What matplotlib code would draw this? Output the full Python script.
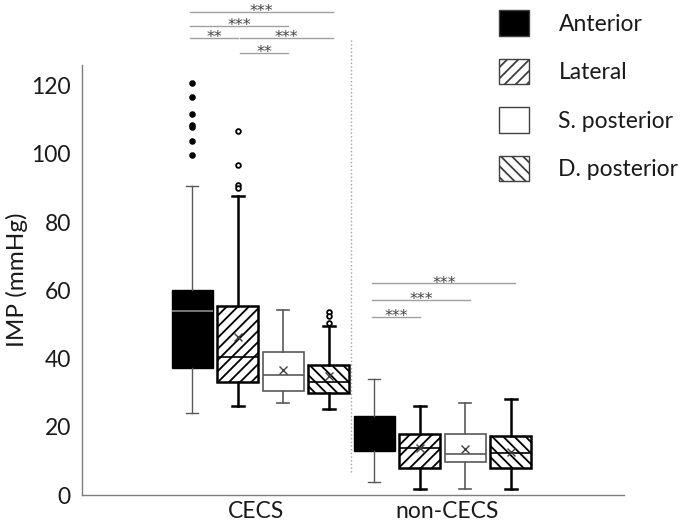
import numpy as np
import matplotlib.pyplot as plt
from matplotlib.patches import Patch

plt.rcParams['font.family'] = ['Lato', 'DejaVu Sans']
plt.rcParams['hatch.linewidth'] = 1.3

# data (mmHg)
groups = ['CECS', 'non-CECS']
sites = ['Anterior', 'Lateral', 'S. posterior', 'D. posterior']

# per box: q1, median, q3, whisker low, whisker high, mean
cecs_q1 = [37.1, 33.1, 30.4, 30.0]
cecs_med = [53.8, 40.3, 35.1, 33.1]
cecs_q3 = [60.2, 55.3, 41.9, 38.0]
cecs_lo = [24.0, 26.0, 27.0, 25.1]
cecs_hi = [90.6, 87.7, 54.3, 49.4]
cecs_mean = [50.0, 46.2, 36.6, 34.8]
cecs_out = [[120.8, 116.7, 111.6, 108.5, 107.9, 103.6, 99.6],
            [106.8, 96.6, 90.9, 90.0],
            [],
            [53.5, 52.5, 50.4]]

non_q1 = [12.9, 8.0, 9.7, 8.0]
non_med = [17.5, 13.9, 12.0, 12.2]
non_q3 = [23.1, 18.0, 17.9, 17.2]
non_lo = [3.9, 1.8, 1.8, 1.8]
non_hi = [34.1, 26.1, 27.0, 28.1]
non_mean = [18.0, 13.8, 13.4, 12.5]
non_out = [[], [], [], []]

# significance: (first box, second box, level, stars)
cecs_sig = [(0, 3, 141.6, '***'), (0, 2, 137.5, '***'), (0, 1, 134.0, '**'),
            (1, 3, 134.0, '***'), (1, 2, 129.6, '**')]
non_sig = [(0, 3, 62.0, '***'), (0, 2, 57.1, '***'), (0, 1, 52.1, '***')]

# styles per site
faces = ['black', 'white', 'white', 'white']
hatches = ['', '///', '', '\\\\\\']
edges = ['black', 'black', '#595959', 'black']
edge_w = [1.0, 1.8, 1.2, 1.8]
whisk_c = ['#595959', 'black', '#595959', 'black']
med_c = [['#8c8c8c', 'black', '#595959', 'black'],
         ['black', 'black', '#595959', 'black']]
mean_c = ['black', '#404040', '#404040', '#404040']

fig = plt.figure(figsize=(6.85, 5.24), dpi=100)
ax = fig.add_axes([0.1197, 0.0553, 0.7915, 0.8206])

all_stats = [(cecs_q1, cecs_med, cecs_q3, cecs_lo, cecs_hi, cecs_mean, cecs_out),
             (non_q1, non_med, non_q3, non_lo, non_hi, non_mean, non_out)]

for g, (q1s, meds, q3s, los, his, means, outs) in enumerate(all_stats):
    for i in range(4):
        pos = g * 4 + i
        st = dict(q1=q1s[i], med=meds[i], q3=q3s[i], whislo=los[i], whishi=his[i],
                  mean=means[i], fliers=outs[i])
        bp = ax.bxp([st], positions=[pos], widths=0.9, patch_artist=True,
                    showmeans=True, showfliers=True,
                    boxprops=dict(facecolor=faces[i], edgecolor=edges[i],
                                  linewidth=edge_w[i], hatch=hatches[i]),
                    whiskerprops=dict(color=whisk_c[i], linewidth=edge_w[i]),
                    capprops=dict(color=whisk_c[i], linewidth=edge_w[i]),
                    medianprops=dict(color=med_c[g][i], linewidth=1.2),
                    meanprops=dict(marker='x', markeredgecolor=mean_c[i],
                                   markersize=6, markeredgewidth=1.0),
                    flierprops=dict(marker='o', markersize=3.4,
                                    markerfacecolor='black' if i == 0 else 'white',
                                    markeredgecolor='black', markeredgewidth=1.3))
        for c in bp['caps']:
            m = np.mean(c.get_xdata())
            c.set_xdata([m - 0.13, m + 0.13])

# significance bars
for g, sigs in enumerate([cecs_sig, non_sig]):
    for a, b, y, s in sigs:
        x1 = g * 4 + a
        x2 = g * 4 + b
        if a == 1:
            x1 += 0.1
        elif b == 1:
            x2 -= 0.1
        ax.plot([x1 - 0.04, x2 + 0.1], [y, y], color='#a0a0a0', lw=1.0, clip_on=False)
        ax.text((x1 + x2) / 2 + 0.03, y - 1.2, s, ha='center', va='baseline',
                fontsize=11.5, color='#404040', family='DejaVu Sans', clip_on=False)

# dotted separator
ax.plot([3.5, 3.5], [6.6, 133.6], color='#a0a0a0', lw=1.0, ls=':', clip_on=False)

ax.set_xlim(-2.42, 9.49)
ax.set_ylim(0, 126)
ax.set_yticks(np.arange(0, 121, 20))
ax.set_xticks([1.4, 5.6])
ax.set_xticklabels(groups)
ax.tick_params(length=0, labelsize=16.5, colors='#1a1a1a')
ax.tick_params(axis='y', pad=8)
ax.tick_params(axis='x', pad=4)
ax.set_ylabel('IMP (mmHg)', fontsize=17.5, color='#1a1a1a', labelpad=2)
for sp in ['top', 'right']:
    ax.spines[sp].set_visible(False)
for sp in ['left', 'bottom']:
    ax.spines[sp].set_color('#7f7f7f')
    ax.spines[sp].set_linewidth(1.0)

handles = [Patch(facecolor=faces[i], edgecolor='#404040', hatch=hatches[i],
                 linewidth=1.0) for i in range(4)]
fig.legend(handles, sites, loc='upper left', bbox_to_anchor=(0.729, 0.980),
           frameon=False, fontsize=16.5, handlelength=1.31, handleheight=1.31,
           handletextpad=1.27, labelspacing=1.02, borderaxespad=0.0, borderpad=0.0,
           labelcolor='#1a1a1a')

fig.savefig('out.png', dpi=100)
